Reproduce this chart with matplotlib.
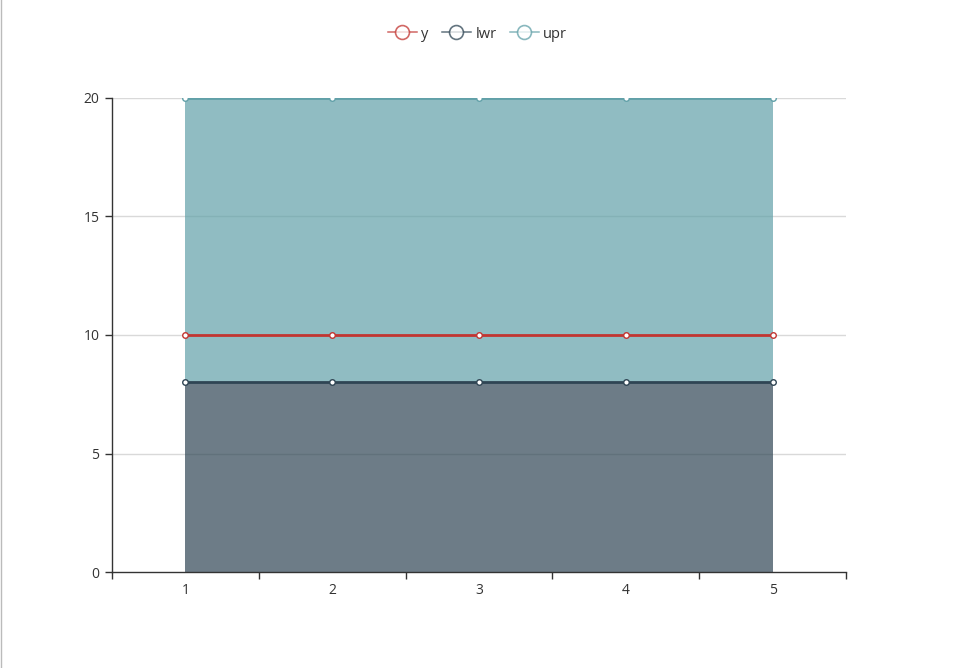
import matplotlib
matplotlib.use("Agg")
import matplotlib.pyplot as plt
from matplotlib.lines import Line2D

x = [1, 2, 3, 4, 5]
y = [10, 10, 10, 10, 10]
lwr = [8, 8, 8, 8, 8]
upr = [20, 20, 20, 20, 20]
yticks = [0, 5, 10, 15, 20]

C_Y, C_LWR, C_UPR = "#c23531", "#2f4554", "#61a0a8"

plt.rcParams["font.family"] = ["Open Sans", "DejaVu Sans"]

fig = plt.figure(figsize=(9.55, 6.68), dpi=100)
ax = fig.add_axes([112 / 955, 1 - 572 / 668, (846 - 112) / 955, (572 - 98) / 668])

# areas
ax.fill_between(x, 0, lwr, color=C_LWR, alpha=0.7, lw=0, zorder=2)
ax.fill_between(x, lwr, upr, color=C_UPR, alpha=0.7, lw=0, zorder=2)

mk = dict(marker="o", markersize=4, markerfacecolor="white", markeredgewidth=1)
ax.plot(x, upr, color=C_UPR, lw=2, zorder=4, **mk)
ax.plot(x, lwr, color=C_LWR, lw=2, zorder=4, **mk)
ax.plot(x, y, color=C_Y, lw=2, zorder=5, **mk)

ax.set_xlim(0.5, 5.5)
ax.set_ylim(0, 20)
ax.set_yticks(yticks)
ax.set_yticklabels([str(v) for v in yticks])
for v in yticks[1:]:
    ax.axhline(v, color="#d9d9d9", lw=1, zorder=1)

ax.set_xticks([i + 0.5 for i in range(0, 6)], minor=False)
ax.set_xticklabels([])
ax.set_xticks(x, minor=True)
ax.set_xticklabels([str(v) for v in x], minor=True)
ax.tick_params(axis="x", which="minor", length=0, pad=8)
ax.tick_params(axis="x", which="major", length=5, color="#333333", width=1)
ax.tick_params(axis="y", length=5, color="#333333", width=1, pad=4)
ax.tick_params(labelsize=10, labelcolor="#333333", which="both")

for s in ["top", "right"]:
    ax.spines[s].set_visible(False)
for s in ["left", "bottom"]:
    ax.spines[s].set_color("#333333")
    ax.spines[s].set_linewidth(1)

handles = [Line2D([], [], color=c, lw=1.1, alpha=0.75, marker="o", markersize=10,
                  markerfacecolor="white", markeredgewidth=1.2) for c in (C_Y, C_LWR, C_UPR)]
fig.legend(handles, ["y", "lwr", "upr"], loc="center", bbox_to_anchor=(0.5, 1 - 34 / 668),
           ncol=3, frameon=False, fontsize=10.5, handlelength=2.0, handletextpad=0.3,
           columnspacing=0.9, labelcolor="#333333")

# left border of the frame
fig.add_artist(Line2D([0.0006, 0.0006], [0, 1], color="#bbbbbb", lw=1.0, transform=fig.transFigure))

fig.savefig("out.png", dpi=100, facecolor="white")
